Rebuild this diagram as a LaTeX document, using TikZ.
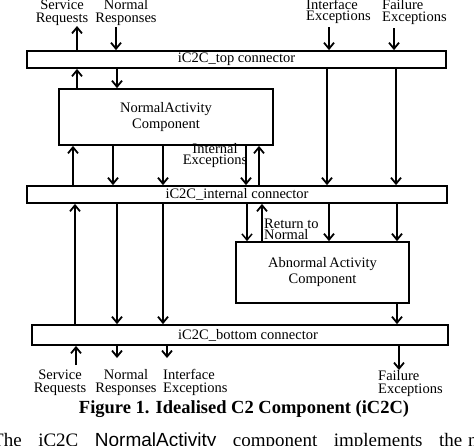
\documentclass[tikz,border=0pt]{standalone}
\usepackage{fontspec}
\setmainfont{Liberation Serif}
\setsansfont{Liberation Sans}
\usetikzlibrary{arrows.meta,calc,positioning}

\tikzset{
	conn/.style={draw,line width=1.8pt,rectangle,inner sep=0pt,font=\fontsize{14.5}{13}\selectfont},
	comp/.style={draw,line width=1.8pt,rectangle,inner sep=0pt,align=center,font=\fontsize{14.5}{16}\selectfont},
	lbl/.style={inner sep=0pt,font=\fontsize{14.5}{12.5}\selectfont},
	flow/.style={line width=1.8pt,-{Straight Barb[length=6pt,width=10pt]}},
	thinflow/.style={line width=1.1pt,-{Straight Barb[length=6pt,width=10pt,line width=1.5pt]}},
}

\begin{document}
\begin{tikzpicture}[x=1pt,y=-1pt]
			\useasboundingbox (0,0) rectangle (474,445);
			\clip (0,0) rectangle (474,445);
			\node[conn,minimum width=419pt,minimum height=17pt] at (236.5,59.5) (top) {iC2C\_top connector\hspace{7pt}};
			\node[comp,minimum width=214pt,minimum height=56pt] at (166,117) (normal) {NormalActivity\\Component};
			\node[conn,minimum width=420pt,minimum height=17pt] at (237,194.5) (internal) {iC2C\_internal connector\hspace{12pt}};
			\node[comp,minimum width=173pt,minimum height=61pt] at (322.5,272.5) (abnormal) {Abnormal\,Activity\\Component};
			\node[conn,minimum width=416pt,minimum height=20pt] at (240,335) (bottom) {\hspace{16pt}iC2C\_bottom connector};
			% outside, top
			\node[lbl,align=center,anchor=base] at (62,22) (sreqTL) {Service\\Requests};
			\node[lbl,align=center,anchor=base] at (126,22) (nrespTL) {Normal\\Responses};
			\node[lbl,font=\fontsize{14.5}{11}\selectfont,align=left,anchor=base west] at (306,20) (iexcTL) {Interface\\Exceptions};
			\node[lbl,font=\fontsize{14.5}{12}\selectfont,align=left,anchor=base west] at (382,21.5) (fexcTL) {Failure\\Exceptions};
			\coordinate (sreqT) at (77,26);
			\coordinate (nrespT) at (116,27);
			\coordinate (iexcT) at (329,27);
			\coordinate (fexcT) at (394,28);
			\draw[flow] (top.north -| sreqT) -- (sreqT);
			\draw[flow] (nrespT) -- (top.north -| nrespT);
			\draw[flow] (iexcT) -- (top.north -| iexcT);
			\draw[flow] (fexcT) -- (top.north -| fexcT);
			% top connector to components
			\draw[flow] (normal.north -| 77,0) -- (top.south -| 77,0);
			\draw[flow] (top.south -| 117,0) -- (normal.north -| 117,0);
			\draw[flow] (top.south -| 327,0) -- (internal.north -| 327,0);
			\draw[flow] (top.south -| 396,0) -- (internal.north -| 396,0);
			% normal activity to internal connector
			\draw[flow] (internal.north -| 73,0) -- (normal.south -| 73,0);
			\draw[flow] (normal.south -| 113,0) -- (internal.north -| 113,0);
			\draw[flow] (normal.south -| 163,0) -- (internal.north -| 163,0);
			\draw[flow] (normal.south -| 246,0) -- (internal.north -| 246,0);
			\draw[flow] (internal.north -| 259,0) -- (normal.south -| 259,0);
			\node[lbl,font=\fontsize{14.5}{9}\selectfont,align=center,anchor=base] at (215,164) (intexc) {Internal\\Exceptions};
			% internal connector to bottom connector
			\draw[flow] (bottom.north -| 75,0) -- (internal.south -| 75,0);
			\draw[flow] (internal.south -| 117,0) -- (bottom.north -| 117,0);
			\draw[flow] (internal.south -| 163,0) -- (bottom.north -| 163,0);
			% internal connector to abnormal activity
			\draw[thinflow] (internal.south -| 247,0) -- (abnormal.north -| 247,0);
			\draw[flow] (abnormal.north -| 262,0) -- (internal.south -| 262,0);
			\draw[flow] (internal.south -| 329,0) -- (abnormal.north -| 329,0);
			\draw[flow] (internal.south -| 397,0) -- (abnormal.north -| 397,0);
			\draw[flow] (abnormal.south -| 397,0) -- (bottom.north -| 397,0);
			\node[lbl,font=\fontsize{14.5}{11}\selectfont,align=left,anchor=base west] at (264,239) (retnorm) {Return to\\Normal};
			% outside, bottom
			\coordinate (sreqB) at (76,365);
			\coordinate (nrespB) at (117,358);
			\coordinate (iexcB) at (167,358);
			\coordinate (fexcB) at (399,370);
			\draw[flow] (sreqB) -- (bottom.south -| sreqB);
			\draw[flow] (bottom.south -| nrespB) -- (nrespB);
			\draw[flow] (bottom.south -| iexcB) -- (iexcB);
			\draw[flow] (bottom.south -| fexcB) -- (fexcB);
			\node[lbl,align=center,anchor=base] at (60,392) (sreqBL) {Service\\Requests};
			\node[lbl,align=center,anchor=base] at (126,392) (nrespBL) {Normal\\Responses};
			\node[lbl,align=left,anchor=base west] at (163,392) (iexcBL) {Interface\\Exceptions};
			\node[lbl,align=left,anchor=base west] at (378,393) (fexcBL) {Failure\\Exceptions};
			\node[inner sep=0pt,anchor=base,font=\fontsize{18.5}{20}\selectfont\bfseries] at (244,413) (caption) {Figure 1. Idealised C2 Component (iC2C)};
			\node[inner sep=0pt,anchor=base west,font=\fontsize{19}{22}\selectfont] at (-8,446) (body) {\makebox[470pt][s]{The iC2C \textsf{NormalActivity} component implements the}\hspace{6pt}normal};
		\end{tikzpicture}
\end{document}
